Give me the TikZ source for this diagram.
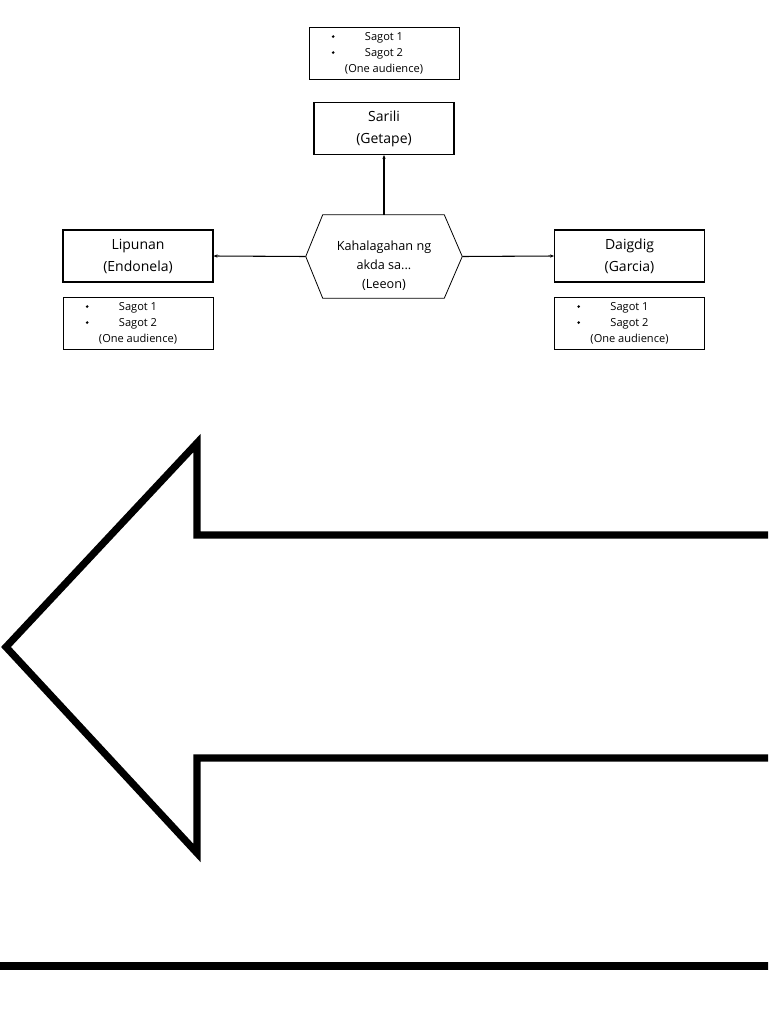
\documentclass[tikz,border=0pt]{standalone}
\usepackage{fontspec}
\setmainfont{Open Sans}
\usetikzlibrary{arrows.meta,calc}
\newcommand\bulrow[1]{\makebox[112.5pt][l]{\hspace{17pt}\raisebox{0.35ex}{\tikz\fill (0,0) circle (1.1pt);}}\llap{\makebox[112.5pt][c]{#1}}}
\tikzset{
  lab/.style={draw=black,line width=0.8pt,minimum width=112.5pt,minimum height=39pt,inner sep=0pt,align=center,font=\fontsize{10.5}{16.5}\selectfont},
  bulbox/.style={draw=black,line width=0.6pt,minimum width=112.5pt,minimum height=39pt,inner sep=0pt,align=center,font=\fontsize{8.3}{12}\selectfont},
  conn/.style={line width=0.8pt,-{Stealth[length=3pt,width=2.5pt]}},
  bigline/.style={line width=5.4pt,line join=miter,miter limit=20}
}
\begin{document}
\begin{tikzpicture}[x=0.75pt,y=-0.75pt]
\useasboundingbox (0,0) rectangle (768,1024);
\clip (0,0) rectangle (768,1024);
% top bullet box
\node[bulbox] (topb) at (384,53) {\bulrow{Sagot 1}\\\bulrow{Sagot 2}\\(One audience)};
% Sarili
\node[lab,minimum width=105pt] (sarili) at (384,128.5) {Sarili\\(Getape)};
% hexagon
\node[minimum width=117pt,minimum height=62.25pt,inner sep=0pt] (hex) at (384,256.5) {};
\draw[line width=0.6pt] (hex.west) -- ($(hex.north west)+(17,0)$) -- ($(hex.north east)+(-18,0)$) -- (hex.east)
  -- ($(hex.south east)+(-18,0)$) -- ($(hex.south west)+(17,0)$) -- cycle;
\node[align=center,font=\fontsize{9.5}{14.25}\selectfont,inner sep=0pt] (hext) at (384,266) {Kahalagahan ng\\akda sa...\\(Leeon)};
% side boxes
\node[lab] (lipunan) at (138,256) {Lipunan\\(Endonela)};
\node[bulbox] (leftb) at (138,323) {\bulrow{Sagot 1}\\\bulrow{Sagot 2}\\(One audience)};
\node[lab] (daigdig) at (629.5,256) {Daigdig\\(Garcia)};
\node[bulbox] (rightb) at (629.5,323) {\bulrow{Sagot 1}\\\bulrow{Sagot 2}\\(One audience)};
% connectors
\draw[conn,line width=1.4pt] (hex.north) -- (sarili.south);
\draw[conn] (hex.west) -- (lipunan.east);
\draw[conn] (hex.east) -- (daigdig.west);
% big arrow
\draw[bigline] (790,535) -- (197,535) -- (197,443) -- (6,647) -- (197,853) -- (197,758) -- (790,758);
% bottom line
\draw[line width=6pt] (-10,966) -- (790,966);
\end{tikzpicture}
\end{document}
